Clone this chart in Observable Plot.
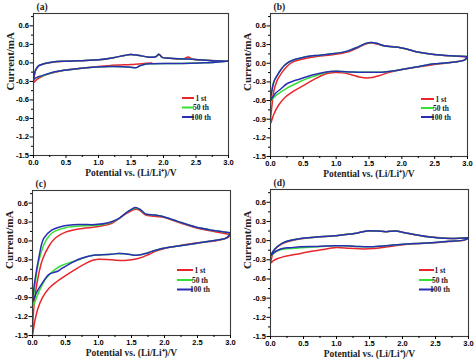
<!DOCTYPE html>
<html><head><meta charset="utf-8">
<script src="https://cdn.jsdelivr.net/npm/d3@7"></script>
<script src="https://cdn.jsdelivr.net/npm/@observablehq/plot@0.6"></script>
<style>
body{margin:0;background:#fff;}
#wrap{position:relative;width:474px;height:362px;overflow:hidden;background:#fff}
#wrap>svg{position:absolute}
</style></head><body><div id="wrap"></div>
<script>
// ---------- data (potential V, current mA) ----------
const cycles = ["1 st", "50 th", "100 th"];
const cycleColors = ["#e8262b", "#33e033", "#2c2cb4"];
const xTicks = [0, 0.5, 1.0, 1.5, 2.0, 2.5, 3.0];
const xMinor = [0.25, 0.75, 1.25, 1.75, 2.25, 2.75];
const yTicks = [-1.5, -1.2, -0.9, -0.6, -0.3, 0.0, 0.3, 0.6];
const yMinor = [-1.35, -1.05, -0.75, -0.45, -0.15, 0.15, 0.45, 0.75];
const xLabel = "Potential vs. (Li/Li\u207A)/V";
const yLabel = "Current/mA";
const panelLabels = ["(a)", "(b)", "(c)", "(d)"];

// panel (a)
const aRedV = [1.82, 1.7, 1.5, 1.3, 1.15, 0.97, 0.7, 0.47, 0.3, 0.2, 0.1, 0.04, 0.0, 0.01, 0.03, 0.08, 0.16, 0.3, 0.47, 0.8, 1.0, 1.23, 1.4, 1.49, 1.6, 1.8, 1.88, 1.93, 1.98, 2.1, 2.3, 2.38, 2.45, 2.6, 2.8, 3.0];
const aRedI = [0.0, -0.01, -0.025, -0.035, -0.045, -0.062, -0.09, -0.12, -0.16, -0.19, -0.24, -0.28, -0.32, -0.24, -0.13, -0.05, -0.015, 0.012, 0.025, 0.04, 0.05, 0.085, 0.12, 0.135, 0.125, 0.09, 0.1, 0.135, 0.09, 0.075, 0.065, 0.095, 0.06, 0.045, 0.035, 0.027];
const aGreenV = [3.0, 2.8, 2.56, 2.2, 1.8, 1.7, 1.63, 1.57, 1.5, 1.23, 0.97, 0.7, 0.47, 0.3, 0.21, 0.12, 0.06, 0.02, 0.0, 0.01, 0.03, 0.08, 0.16, 0.3, 0.47, 0.8, 1.0, 1.23, 1.4, 1.49, 1.6, 1.8, 1.88, 1.93, 1.98, 2.1, 2.3, 2.5, 2.7, 3.0];
const aGreenI = [0.03, 0.01, 0.0, -0.01, -0.015, -0.025, -0.05, -0.08, -0.07, -0.06, -0.068, -0.092, -0.12, -0.155, -0.185, -0.215, -0.235, -0.255, -0.27, -0.2, -0.12, -0.045, -0.015, 0.015, 0.027, 0.04, 0.05, 0.085, 0.12, 0.135, 0.125, 0.09, 0.1, 0.14, 0.09, 0.075, 0.065, 0.055, 0.04, 0.027];
const aBlueV = [3.0, 2.8, 2.56, 2.2, 1.8, 1.7, 1.63, 1.57, 1.5, 1.23, 0.97, 0.7, 0.47, 0.3, 0.21, 0.12, 0.06, 0.02, 0.0, 0.01, 0.03, 0.08, 0.16, 0.3, 0.47, 0.8, 1.0, 1.23, 1.4, 1.49, 1.6, 1.8, 1.88, 1.93, 1.98, 2.1, 2.3, 2.5, 2.7, 3.0];
const aBlueI = [0.03, 0.01, 0.0, -0.01, -0.015, -0.025, -0.05, -0.08, -0.07, -0.06, -0.065, -0.09, -0.12, -0.15, -0.18, -0.21, -0.23, -0.25, -0.265, -0.2, -0.12, -0.045, -0.015, 0.015, 0.027, 0.04, 0.05, 0.085, 0.12, 0.135, 0.125, 0.09, 0.1, 0.14, 0.09, 0.075, 0.065, 0.055, 0.04, 0.027];

// panel (b)
const bRedV = [3.0, 2.95, 2.8, 2.5, 2.24, 1.98, 1.8, 1.65, 1.5, 1.35, 1.22, 1.1, 0.97, 0.85, 0.7, 0.5, 0.35, 0.22, 0.12, 0.05, 0.0, 0.02, 0.05, 0.1, 0.16, 0.26, 0.36, 0.46, 0.7, 0.97, 1.17, 1.33, 1.45, 1.54, 1.62, 1.73, 1.85, 1.98, 2.1, 2.24, 2.49, 2.75, 3.0];
const bRedI = [0.09, 0.05, 0.02, -0.02, -0.06, -0.105, -0.15, -0.2, -0.235, -0.22, -0.18, -0.155, -0.15, -0.17, -0.24, -0.36, -0.45, -0.55, -0.68, -0.82, -0.97, -0.7, -0.45, -0.28, -0.17, -0.04, 0.03, 0.06, 0.11, 0.14, 0.18, 0.25, 0.31, 0.325, 0.31, 0.28, 0.27, 0.25, 0.22, 0.18, 0.14, 0.12, 0.1];
const bGreenV = [3.0, 2.95, 2.8, 2.5, 2.24, 1.98, 1.73, 1.5, 1.25, 1.0, 0.85, 0.72, 0.6, 0.46, 0.34, 0.25, 0.16, 0.08, 0.03, 0.0, 0.02, 0.05, 0.1, 0.16, 0.21, 0.28, 0.36, 0.46, 0.56, 0.75, 0.97, 1.17, 1.33, 1.45, 1.54, 1.62, 1.73, 1.85, 1.98, 2.1, 2.24, 2.49, 2.75, 3.0];
const bGreenI = [0.09, 0.05, 0.02, -0.01, -0.055, -0.105, -0.14, -0.145, -0.14, -0.13, -0.145, -0.19, -0.23, -0.29, -0.35, -0.4, -0.46, -0.52, -0.57, -0.62, -0.45, -0.3, -0.2, -0.1, -0.036, 0.02, 0.056, 0.085, 0.109, 0.13, 0.155, 0.195, 0.26, 0.32, 0.335, 0.32, 0.28, 0.265, 0.25, 0.22, 0.18, 0.14, 0.12, 0.11];
const bBlueV = [3.0, 2.95, 2.8, 2.5, 2.24, 1.98, 1.73, 1.5, 1.25, 1.0, 0.85, 0.72, 0.6, 0.46, 0.34, 0.25, 0.16, 0.08, 0.03, 0.0, 0.02, 0.05, 0.1, 0.16, 0.21, 0.28, 0.36, 0.46, 0.56, 0.75, 0.97, 1.17, 1.33, 1.45, 1.54, 1.62, 1.73, 1.85, 1.98, 2.1, 2.24, 2.49, 2.75, 3.0];
const bBlueI = [0.1, 0.05, 0.02, -0.01, -0.055, -0.105, -0.14, -0.145, -0.14, -0.13, -0.14, -0.17, -0.2, -0.25, -0.29, -0.33, -0.41, -0.48, -0.55, -0.6, -0.45, -0.3, -0.2, -0.1, -0.036, 0.02, 0.056, 0.085, 0.109, 0.13, 0.155, 0.195, 0.26, 0.32, 0.335, 0.32, 0.28, 0.265, 0.25, 0.22, 0.18, 0.14, 0.12, 0.11];

// panel (c)
const cRedV = [3.0, 2.97, 2.9, 2.7, 2.5, 2.2, 2.0, 1.85, 1.75, 1.6, 1.4, 1.2, 1.0, 0.9, 0.8, 0.65, 0.5, 0.35, 0.25, 0.15, 0.08, 0.03, 0.0, 0.01, 0.03, 0.08, 0.15, 0.25, 0.35, 0.5, 0.7, 1.0, 1.2, 1.4, 1.55, 1.62, 1.7, 1.85, 2.0, 2.2, 2.5, 2.75, 3.0];
const cRedI = [0.1, 0.06, 0.03, -0.01, -0.03, -0.08, -0.12, -0.17, -0.22, -0.28, -0.31, -0.3, -0.29, -0.31, -0.36, -0.45, -0.55, -0.66, -0.75, -0.9, -1.08, -1.3, -1.5, -1.2, -0.95, -0.6, -0.3, -0.08, 0.05, 0.14, 0.19, 0.23, 0.28, 0.42, 0.5, 0.49, 0.42, 0.39, 0.37, 0.3, 0.2, 0.15, 0.1];
const cGreenV = [3.0, 2.97, 2.92, 2.7, 2.47, 2.21, 1.96, 1.8, 1.71, 1.6, 1.5, 1.4, 1.3, 1.2, 1.05, 0.95, 0.82, 0.7, 0.57, 0.44, 0.32, 0.2, 0.1, 0.03, 0.0, 0.01, 0.05, 0.1, 0.2, 0.3, 0.5, 0.8, 1.0, 1.15, 1.3, 1.45, 1.56, 1.63, 1.71, 1.85, 1.96, 2.2, 2.47, 2.72, 3.0];
const cGreenI = [0.13, 0.08, 0.04, 0.0, -0.04, -0.08, -0.12, -0.17, -0.2, -0.225, -0.22, -0.205, -0.2, -0.21, -0.22, -0.225, -0.25, -0.3, -0.34, -0.39, -0.47, -0.6, -0.8, -0.98, -1.08, -0.95, -0.6, -0.3, 0.0, 0.13, 0.21, 0.24, 0.25, 0.28, 0.35, 0.47, 0.52, 0.5, 0.43, 0.41, 0.39, 0.31, 0.22, 0.17, 0.13];
const cBlueV = [3.0, 2.97, 2.92, 2.7, 2.47, 2.21, 1.96, 1.8, 1.71, 1.6, 1.5, 1.4, 1.3, 1.2, 1.05, 0.95, 0.82, 0.7, 0.57, 0.44, 0.38, 0.32, 0.25, 0.14, 0.06, 0.02, 0.0, 0.01, 0.04, 0.09, 0.17, 0.29, 0.44, 0.7, 0.95, 1.15, 1.3, 1.45, 1.56, 1.63, 1.71, 1.85, 1.96, 2.2, 2.47, 2.72, 3.0];
const cBlueI = [0.13, 0.08, 0.04, 0.0, -0.04, -0.08, -0.12, -0.17, -0.2, -0.225, -0.22, -0.205, -0.2, -0.21, -0.22, -0.225, -0.25, -0.29, -0.36, -0.44, -0.48, -0.5, -0.53, -0.68, -0.82, -0.92, -0.97, -0.85, -0.6, -0.3, 0.04, 0.17, 0.23, 0.26, 0.26, 0.29, 0.35, 0.47, 0.53, 0.5, 0.43, 0.41, 0.39, 0.31, 0.22, 0.17, 0.13];

// panel (d)
const dRedV = [3.0, 2.93, 2.7, 2.48, 2.2, 1.97, 1.75, 1.55, 1.4, 1.2, 0.97, 0.8, 0.6, 0.46, 0.3, 0.2, 0.11, 0.05, 0.0, 0.01, 0.03, 0.06, 0.1, 0.2, 0.3, 0.46, 0.7, 0.97, 1.27, 1.4, 1.5, 1.62, 1.75, 1.9, 2.0, 2.1, 2.38, 2.73, 3.0];
const dRedI = [0.04, 0.005, -0.015, -0.035, -0.05, -0.07, -0.1, -0.125, -0.13, -0.12, -0.11, -0.14, -0.17, -0.2, -0.23, -0.25, -0.28, -0.31, -0.35, -0.3, -0.22, -0.15, -0.1, -0.04, -0.005, 0.03, 0.055, 0.077, 0.11, 0.14, 0.15, 0.15, 0.14, 0.15, 0.13, 0.11, 0.065, 0.035, 0.04];
const dGreenV = [3.0, 2.93, 2.7, 2.48, 2.2, 1.97, 1.75, 1.52, 1.3, 1.1, 0.97, 0.7, 0.46, 0.3, 0.2, 0.11, 0.05, 0.0, 0.02, 0.06, 0.11, 0.18, 0.26, 0.46, 0.7, 0.97, 1.27, 1.4, 1.5, 1.62, 1.75, 1.9, 2.0, 2.1, 2.38, 2.73, 3.0];
const dGreenI = [0.04, 0.008, -0.01, -0.03, -0.045, -0.06, -0.08, -0.095, -0.09, -0.08, -0.08, -0.095, -0.11, -0.125, -0.13, -0.16, -0.2, -0.25, -0.2, -0.14, -0.09, -0.04, -0.007, 0.034, 0.055, 0.077, 0.11, 0.14, 0.155, 0.15, 0.14, 0.15, 0.13, 0.11, 0.06, 0.034, 0.045];
const dBlueV = [3.0, 2.93, 2.7, 2.48, 2.2, 1.97, 1.75, 1.52, 1.3, 1.1, 0.97, 0.7, 0.46, 0.3, 0.2, 0.11, 0.05, 0.0, 0.02, 0.06, 0.11, 0.18, 0.26, 0.46, 0.7, 0.97, 1.27, 1.4, 1.5, 1.62, 1.75, 1.9, 2.0, 2.1, 2.38, 2.73, 3.0];
const dBlueI = [0.04, 0.008, -0.01, -0.03, -0.045, -0.06, -0.08, -0.095, -0.09, -0.08, -0.08, -0.09, -0.095, -0.11, -0.12, -0.15, -0.19, -0.24, -0.2, -0.14, -0.09, -0.04, -0.007, 0.034, 0.055, 0.077, 0.11, 0.14, 0.155, 0.15, 0.14, 0.15, 0.13, 0.11, 0.06, 0.034, 0.045];

// ---------- layout ----------
const panels = [
  {label: panelLabels[0], left: 0, top: 0, mL: 33, mR: 9, mT: 13, mB: 26,
   series: [[aRedV, aRedI], [aGreenV, aGreenI], [aBlueV, aBlueI]],
   leg: {x1: 182, x2: 194, tx: 201, ys: [98, 107.5, 117]}},
  {label: panelLabels[1], left: 237, top: 0, mL: 33, mR: 7, mT: 13, mB: 25,
   series: [[bRedV, bRedI], [bGreenV, bGreenI], [bBlueV, bBlueI]],
   leg: {x1: 184, x2: 197, tx: 204, ys: [99, 108, 117]}},
  {label: panelLabels[2], left: 0, top: 181, mL: 32, mR: 7, mT: 9, mB: 27,
   series: [[cRedV, cRedI], [cGreenV, cGreenI], [cBlueV, cBlueI]],
   leg: {x1: 177, x2: 193, tx: 200, ys: [89, 99, 108.5]}},
  {label: panelLabels[3], left: 237, top: 181, mL: 33, mR: 6, mT: 8, mB: 26,
   series: [[dRedV, dRedI], [dGreenV, dGreenI], [dBlueV, dBlueI]],
   leg: {x1: 182, x2: 197, tx: 203, ys: [89, 99, 108.5]}}
];

const serif = "'Liberation Serif', 'Times New Roman', serif";
const sans = "'Liberation Sans', Arial, sans-serif";
const wrap = document.getElementById("wrap");

for (const p of panels) {
  const data = cycles.flatMap((cy, k) =>
    p.series[k][0].map((v, i) => ({v, c: p.series[k][1][i], cycle: cy})));
  const svg = Plot.plot({
    width: 237, height: 181,
    marginLeft: p.mL, marginRight: p.mR, marginTop: p.mT, marginBottom: p.mB,
    style: {background: "transparent", overflow: "visible", fontFamily: sans},
    x: {domain: [0, 3], label: null},
    y: {domain: [-1.5, 0.8], label: null},
    color: {domain: cycles, range: cycleColors},
    marks: [
      Plot.line(data, {x: "v", y: "c", z: "cycle", stroke: "cycle", strokeWidth: 1.5, curve: "catmull-rom", clip: true}),
      Plot.frame({stroke: "#3a3a3a", strokeWidth: 1.1}),
      Plot.axisX(xTicks, {tickSize: 3, tickPadding: 1.5, tickFormat: d => d.toFixed(1), fontSize: 7.5, fontWeight: "bold", fontFamily: sans, label: null}),
      Plot.axisX(xMinor, {tickSize: 2, tickFormat: () => "", label: null}),
      Plot.axisY(yTicks, {tickSize: 3.5, tickPadding: 1, tickFormat: d => d.toFixed(1), fontSize: 7.5, fontWeight: "bold", fontFamily: sans, label: null}),
      Plot.axisY(yMinor, {tickSize: 2, tickFormat: () => "", label: null}),
      Plot.text([xLabel], {frameAnchor: "bottom", dy: 20, fontSize: 9.5, fontWeight: "bold", fontFamily: serif, fill: "#222"}),
      Plot.text([yLabel], {frameAnchor: "left", rotate: -90, dx: -23, dy: 6, fontSize: 11, fontWeight: "bold", fontFamily: serif, fill: "#222"}),
      Plot.text([p.label], {frameAnchor: "top-left", textAnchor: "start", lineAnchor: "bottom", dx: 3, dy: -4, fontSize: 9.5, fontWeight: "bold", fontFamily: serif, fill: "#222"})
    ]
  });
  svg.style.left = p.left + "px";
  svg.style.top = p.top + "px";
  const g = d3.select(svg).append("g");
  cycles.forEach((cy, k) => {
    g.append("line").attr("x1", p.leg.x1).attr("x2", p.leg.x2)
      .attr("y1", p.leg.ys[k]).attr("y2", p.leg.ys[k])
      .attr("stroke", cycleColors[k]).attr("stroke-width", 2);
    g.append("text").attr("x", p.leg.tx).attr("y", p.leg.ys[k]).attr("dy", "0.35em")
      .attr("font-family", serif).attr("font-weight", "bold").attr("font-size", 7.5)
      .attr("fill", "#222").text(cy);
  });
  wrap.appendChild(svg);
}
</script></body></html>
